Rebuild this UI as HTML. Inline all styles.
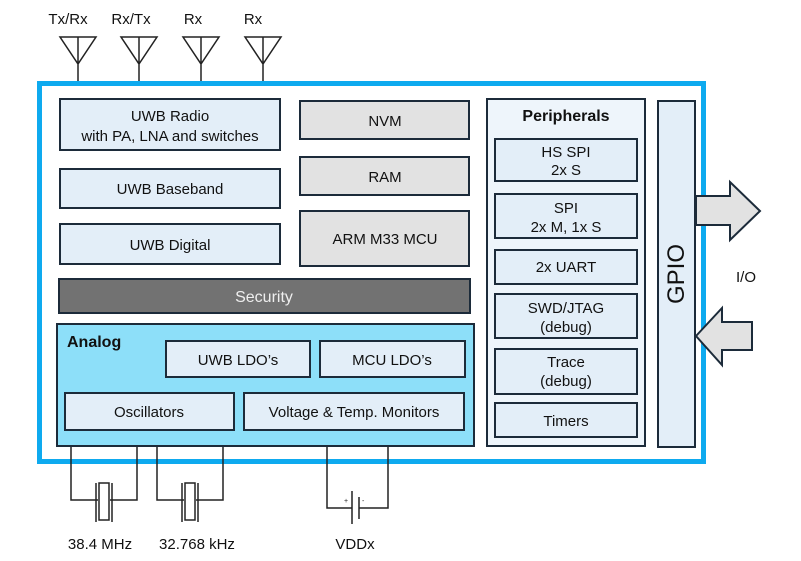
<!DOCTYPE html>
<html><head><meta charset="utf-8"><style>
body{margin:0;background:#fff}
svg{display:block;font-family:"Liberation Sans",Arial,sans-serif}
</style></head><body>
<svg width="801" height="561" viewBox="0 0 801 561" xmlns="http://www.w3.org/2000/svg">
<rect width="801" height="561" fill="#fff"/>
<g stroke="#222" stroke-width="1.5" fill="none">
<path d="M60,37 L96,37 L78,64 Z M78,37 L78,99"/>
<path d="M121,37 L157,37 L139,64 Z M139,37 L139,99"/>
<path d="M183,37 L219,37 L201,64 Z M201,37 L201,99"/>
<path d="M245,37 L281,37 L263,64 Z M263,37 L263,99"/>
</g>
<g font-size="15" fill="#111" text-anchor="middle">
<text x="68" y="24">Tx/Rx</text><text x="131" y="24">Rx/Tx</text>
<text x="193" y="24">Rx</text><text x="253" y="24">Rx</text>
</g>
<rect x="39.5" y="83.5" width="664" height="378" fill="#fff" stroke="#0eaaef" stroke-width="5"/>
<g stroke="#1c2b3a" stroke-width="2">
<rect x="60" y="99" width="220" height="51" fill="#e3eef8"/>
<rect x="60" y="169" width="220" height="39" fill="#e3eef8"/>
<rect x="60" y="224" width="220" height="40" fill="#e3eef8"/>
<rect x="300" y="101" width="169" height="38" fill="#e2e2e2"/>
<rect x="300" y="157" width="169" height="38" fill="#e2e2e2"/>
<rect x="300" y="211" width="169" height="55" fill="#e2e2e2"/>
<rect x="59" y="279" width="411" height="34" fill="#727272"/>
<rect x="57" y="324" width="417" height="122" fill="#8ddff9"/>
<rect x="166" y="341" width="144" height="36" fill="#e3eef8"/>
<rect x="320" y="341" width="145" height="36" fill="#e3eef8"/>
<rect x="65" y="393" width="169" height="37" fill="#e3eef8"/>
<rect x="244" y="393" width="220" height="37" fill="#e3eef8"/>
<rect x="487" y="99" width="158" height="347" fill="#eef5fb"/>
<rect x="495" y="139" width="142" height="42" fill="#e3eef8"/>
<rect x="495" y="194" width="142" height="44" fill="#e3eef8"/>
<rect x="495" y="250" width="142" height="34" fill="#e3eef8"/>
<rect x="495" y="294" width="142" height="44" fill="#e3eef8"/>
<rect x="495" y="349" width="142" height="45" fill="#e3eef8"/>
<rect x="495" y="403" width="142" height="34" fill="#e3eef8"/>
<rect x="658" y="101" width="37" height="346" fill="#e3eef8"/>
<path d="M696,196 L730,196 L730,182 L760,211 L730,240 L730,225 L696,225 Z" fill="#e2e2e2"/>
<path d="M696,336 L722,308 L722,322 L752,322 L752,350 L722,350 L722,365 Z" fill="#e2e2e2"/>
</g>
<g font-size="15" fill="#111" text-anchor="middle">
<text x="170" y="121">UWB Radio</text><text x="170" y="141">with PA, LNA and switches</text>
<text x="170" y="194">UWB Baseband</text>
<text x="170" y="250">UWB Digital</text>
<text x="385" y="126">NVM</text><text x="385" y="182">RAM</text>
<text x="385" y="244">ARM M33 MCU</text>
<text x="264" y="302" fill="#eee" font-size="16">Security</text>
<text x="238" y="365">UWB LDO’s</text><text x="392" y="365">MCU LDO’s</text>
<text x="149" y="417">Oscillators</text><text x="354" y="417">Voltage &amp; Temp. Monitors</text>
<text x="566" y="121" font-weight="bold" font-size="16">Peripherals</text>
<text x="566" y="157">HS SPI</text><text x="566" y="175">2x S</text>
<text x="566" y="213">SPI</text><text x="566" y="232">2x M, 1x S</text>
<text x="566" y="272">2x UART</text>
<text x="566" y="313">SWD/JTAG</text><text x="566" y="332">(debug)</text>
<text x="566" y="367">Trace</text><text x="566" y="386">(debug)</text>
<text x="566" y="426">Timers</text>
<text x="746" y="282">I/O</text>
</g>
<text x="67" y="347" font-size="16" font-weight="bold" fill="#111">Analog</text>
<text transform="translate(684,274) rotate(-90)" font-size="24" text-anchor="middle" fill="#111">GPIO</text>
<g stroke="#222" stroke-width="1.5" fill="none">
<path d="M71,447 L71,500 L98,500 M137,447 L137,500 L110,500"/>
<rect x="99" y="483" width="10" height="37"/><path d="M96,483 L96,522 M112,483 L112,522"/>
<path d="M157,447 L157,500 L184,500 M223,447 L223,500 L196,500"/>
<rect x="185" y="483" width="10" height="37"/><path d="M182,483 L182,522 M198,483 L198,522"/>
<path d="M327,447 L327,508 L352,508 M388,447 L388,508 L359,508 M352,491 L352,524 M359,497 L359,519"/>
</g>
<g font-size="7" fill="#222"><text x="344" y="503">+</text><text x="362" y="503">-</text></g>
<g font-size="15" fill="#111" text-anchor="middle">
<text x="100" y="549">38.4 MHz</text><text x="197" y="549">32.768 kHz</text><text x="355" y="549">VDDx</text>
</g>
</svg>
</body></html>
